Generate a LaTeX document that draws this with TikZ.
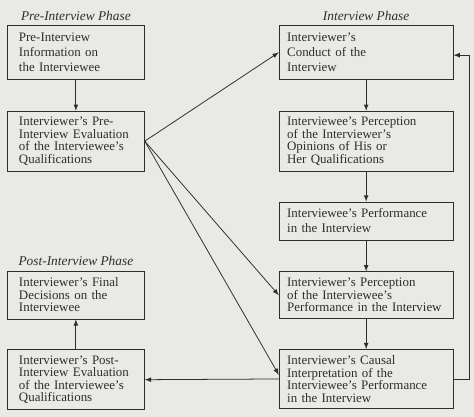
\documentclass[tikz,border=0pt]{standalone}
\usepackage{fontspec}
\setmainfont{Liberation Serif}
\usetikzlibrary{positioning}
\usetikzlibrary{arrows}

\definecolor{paper}{RGB}{233,233,230}
\definecolor{ink}{RGB}{45,45,45}

\begin{document}
\begin{tikzpicture}[
                node distance=0.775cm,
                >=latex,
                line width=0.55pt,
                color=ink,
                every node/.style={
                        align=left,
                        font=\fontsize{9.2}{8.9}\selectfont
                    },
                leftbox/.style={
                        draw,
                        text width=2.845cm,
                        inner xsep=0.29cm
                    },
                rightbox/.style={
                        draw,
                        text width=3.95cm,
                        inner xsep=0.2cm
                    },
                loose/.style={font=\fontsize{9.2}{10.7}\selectfont},
                phase/.style={
                        font=\fontsize{9.5}{10}\selectfont\itshape,
                        inner sep=1pt
                    }
            ]

            % Page background
            \path[use as bounding box, fill=paper] (0,0) rectangle (11.85,-10.425);

            % Left column: before and after the interview
            \node[leftbox, loose, minimum height=1.35cm, anchor=north west] (pre1) at (0.175,-0.625) {Pre-Interview\\Information on\\the Interviewee};
            \node[leftbox, minimum height=1.5cm, below=of pre1] (pre2) {Interviewer's Pre-\\Interview Evaluation\\of the Interviewee's\\Qualifications};
            \node[leftbox, minimum height=1.2cm, below=2.475cm of pre2] (post1) {Interviewer's Final\\Decisions on the\\Interviewee};
            \node[leftbox, minimum height=1.5cm, below=0.75cm of post1] (post2) {Interviewer's Post-\\Interview Evaluation\\of the Interviewee's\\Qualifications};

            % Right column: the interview itself
            \node[rightbox, loose, minimum height=1.35cm, right=3.35cm of pre1] (int1) {Interviewer's\\Conduct of the\\Interview};
            \node[rightbox, minimum height=1.5cm, below=of int1] (int2) {Interviewee's Perception\\of the Interviewer's\\Opinions of His or\\Her Qualifications};
            \node[rightbox, loose, minimum height=0.95cm, below=0.75cm of int2] (int3) {Interviewee's Performance\\in the Interview};
            \node[rightbox, minimum height=1.175cm, below=of int3] (int4) {Interviewer's Perception\\of the Interviewee's\\Performance in the Interview};
            \node[rightbox, minimum height=1.475cm, below=0.75cm of int4] (int5) {Interviewer's Causal\\Interpretation of the\\Interviewee's Performance\\in the Interview};

            % Phase titles
            \node[phase, above=2pt of pre1] (preTitle) {Pre-Interview Phase};
            \node[phase, above=2pt of int1] (intTitle) {Interview Phase};
            \node[phase, above=2pt of post1] (postTitle) {Post-Interview Phase};

            % Arrows down the columns
            \draw[->] (pre1) -- (pre2);
            \draw[->] (int1) -- (int2);
            \draw[->] (int2) -- (int3);
            \draw[->] (int3) -- (int4);
            \draw[->] (int4) -- (int5);
            \draw[->] (post2) -- (post1);

            % Arrows between the columns
            \draw[->] (pre2.east) -- (int1.west);
            \draw[->] (pre2.east) -- (int4.west);
            \draw[->] (pre2.east) -- ([yshift=3pt]int5.west);
            \draw[->] (int5.west) -- (post2.east);
            \draw[->] (int5.east) -- ++(0.4,0) |- ([yshift=-2pt]int1.east);

        \end{tikzpicture}
\end{document}
